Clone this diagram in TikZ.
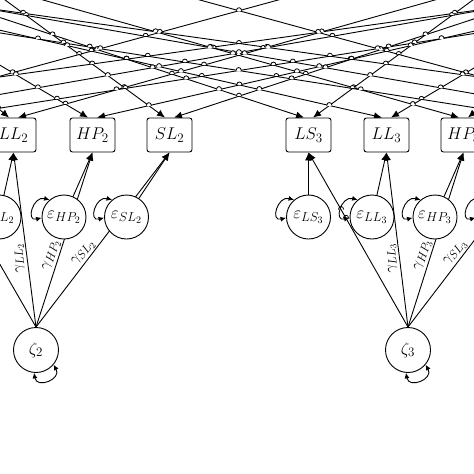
\RequirePackage{fix-cm}
\documentclass[tikz,border=0pt]{standalone}
\DeclareMathSizes{17}{17}{13}{10}
\DeclareMathSizes{15}{15}{12}{9}
\usetikzlibrary{arrows.meta,intersections}
\pgfdeclarelayer{background}
\pgfsetlayers{background,main}
\begin{document}
\begin{tikzpicture}[x=1pt,y=1pt,
  box/.style={draw, line width=0.9pt, rounded corners=2.5pt, minimum width=45pt, minimum height=34pt, inner sep=0pt, fill=white, font=\fontsize{17}{20}\selectfont},
  lat/.style={draw, circle, line width=0.9pt, minimum size=44pt, inner sep=0pt, fill=white, font=\fontsize{17}{20}\selectfont},
  arr/.style={line width=0.9pt, -{Latex[length=8pt,width=7pt]}},
  dbl/.style={line width=0.9pt, {Latex[length=5.5pt,width=5pt]}-{Latex[length=5.5pt,width=5pt]}},
  lab/.style={sloped, allow upside down, above, inner sep=1.2pt, font=\fontsize{15}{17}\selectfont, pos=0.4},
  hop/.style={line width=0.8pt}]
\useasboundingbox (0,0) rectangle (474,-474);

% observed variables
\foreach \n/\x/\t in {LS2/-64.5/LS_2, LL2/13.5/LL_2, HP2/92.5/HP_2, SL2/169.5/SL_2,
                      LS3/308.5/LS_3, LL3/386.5/LL_3, HP3/463.5/HP_3, SL3/541.5/SL_3}
  \node[box] (\n) at (\x,-135) {$\t$};

% residuals
\foreach \n/\x/\t in {eLS2/-64.5/LS_2, eLL2/-1/LL_2, eHP2/64/HP_2, eSL2/126.5/SL_2,
                      eLS3/308.5/LS_3, eLL3/372/LL_3, eHP3/435/HP_3, eSL3/498/SL_3}
  \node[lat] (\n) at (\x,-217) {$\varepsilon_{\t}$};

% zetas
\node[lat, minimum size=45pt] (z2) at (36,-350) {$\zeta_2$};
\node[lat, minimum size=45pt] (z3) at (408,-350) {$\zeta_3$};

% far ends of the upper connectors
\coordinate (s1) at (-43,35.4);
\coordinate (s2) at (521,35.4);
\coordinate (s3) at (-150,24);
\coordinate (s4) at (628,24);
\coordinate (s5) at (-130,0);
\coordinate (s6) at (608,0);
\coordinate (s7) at (497.5,17.7);
\coordinate (s8) at (-19.5,17.7);
\coordinate (s9) at (560,-11.5);
\coordinate (s10) at (-82,-11.5);
\coordinate (s11) at (560,9.4);
\coordinate (s12) at (-82,9.4);
\coordinate (s13) at (-150,-9.3);
\coordinate (s14) at (628,-9.3);
\coordinate (s15) at (540,0);
\coordinate (e15) at (-135,-118);
\coordinate (s16) at (-62,0);
\coordinate (e16) at (613,-118);
\coordinate (s17) at (300,6);
\coordinate (e17) at (-160,-120);
\coordinate (s18) at (178,6);
\coordinate (e18) at (638,-120);
\coordinate (s19) at (-100,4);
\coordinate (e19) at (640,-99.6);
\coordinate (s20) at (578,4);
\coordinate (e20) at (-162,-99.6);

\begin{pgfonlayer}{background}
\draw[arr, name path global=t1x] (s1) -- ([xshift=-4.5pt]SL2.north);
\draw[arr, name path global=t2x] (s2) -- ([xshift=4.5pt]LS3.north);
\draw[arr, name path global=t3x] (s3) -- ([xshift=-4.5pt]HP2.north);
\draw[arr, name path global=t4x] (s4) -- ([xshift=4.5pt]LL3.north);
\draw[arr, name path global=t5x] (s5) -- ([xshift=-4.5pt]LL2.north);
\draw[arr, name path global=t6x] (s6) -- ([xshift=4.5pt]HP3.north);
\draw[arr, name path global=t7x] (s7) -- ([xshift=4.5pt]LL2.north);
\draw[arr, name path global=t8x] (s8) -- ([xshift=-4.5pt]HP3.north);
\draw[arr, name path global=t9x] (s9) -- ([xshift=4.5pt]HP2.north);
\draw[arr, name path global=t10x] (s10) -- ([xshift=-4.5pt]LL3.north);
\draw[arr, name path global=t11x] (s11) -- ([xshift=4.5pt]SL2.north);
\draw[arr, name path global=t12x] (s12) -- ([xshift=-4.5pt]LS3.north);
\draw[arr, name path global=t13x] (s13) -- ([xshift=-4.5pt]SL3.north);
\draw[arr, name path global=t14x] (s14) -- ([xshift=4.5pt]LS2.north);
\draw[arr, name path global=t15x] (s15) -- (e15);
\draw[arr, name path global=t16x] (s16) -- (e16);
\draw[arr, name path global=t17x] (s17) -- (e17);
\draw[arr, name path global=t18x] (s18) -- (e18);
\draw[arr, name path global=t19x] (s19) -- (e19);
\draw[arr, name path global=t20x] (s20) -- (e20);

% structural paths from zetas
\draw[arr] (z2.north) -- (LS2.south);
\draw[arr] (z2.north) -- node[lab]{$\gamma_{LL_2}$} (LL2.south);
\draw[arr] (z2.north) -- node[lab]{$\gamma_{HP_2}$} (HP2.south);
\draw[arr] (z2.north) -- node[lab]{$\gamma_{SL_2}$} (SL2.south);
\draw[arr, name path global=gLS3] (z3.north) -- (LS3.south);
\draw[arr] (z3.north) -- node[lab]{$\gamma_{LL_3}$} (LL3.south);
\draw[arr] (z3.north) -- node[lab]{$\gamma_{HP_3}$} (HP3.south);
\draw[arr] (z3.north) -- node[lab]{$\gamma_{SL_3}$} (SL3.south);
\end{pgfonlayer}

% hops at crossings of the upper connectors
\foreach \i in {1,...,20}{
  \foreach \j in {1,...,20}{
    \ifnum\i<\j\relax
      \path[name intersections={of=t\i x and t\j x, total=\ntot}] \pgfextra{\xdef\hoptot{\ntot}};
      \ifnum\hoptot>0\relax
        \fill[white] (intersection-1) ++(-2.6,0) .. controls +(0,4) and +(0,4) .. +(5.2,0) -- cycle;
        \draw[hop] (intersection-1) ++(-2.6,0) .. controls +(0,4) and +(0,4) .. +(5.2,0);
      \fi
    \fi
  }
}

% residual paths
\foreach \n in {LS2,LL2,HP2,SL2,LS3,LL3,HP3,SL3}
  \draw[arr] (e\n) -- (\n.south);

% variance loops
\foreach \n in {eLS2,eLL2,eHP2,eSL2,eLS3,eHP3,eSL3}
  \draw[dbl] (\n.130) to[out=165,in=195,looseness=2.2] (\n.182);
\draw[dbl, name path global=loopLL3] (eLL3.130) to[out=165,in=195,looseness=2.2] (eLL3.182);
\foreach \n in {z2,z3}
  \draw[dbl] (\n.-95) to[out=-80,in=-60,looseness=2] (\n.-40);

\path[name intersections={of=gLS3 and loopLL3, total=\ntot}] \pgfextra{\xdef\hoptot{\ntot}};
\ifnum\hoptot>0\relax
  \foreach \s in {1,...,\hoptot}
    \draw[hop] (intersection-\s) ++(-2.6,0) .. controls +(0,4) and +(0,4) .. +(5.2,0);
\fi
\end{tikzpicture}
\end{document}
